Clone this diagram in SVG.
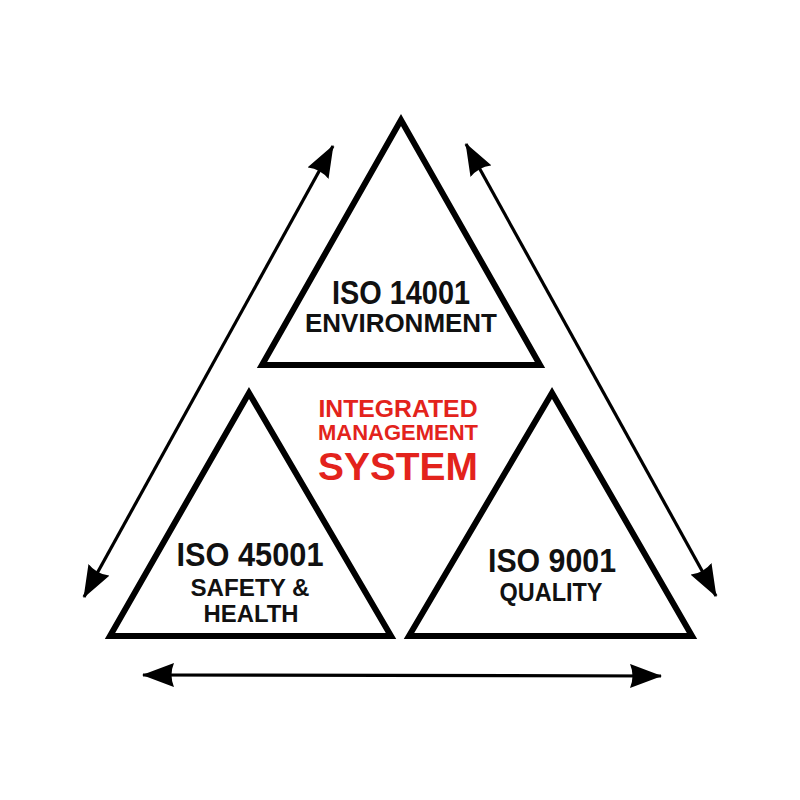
<svg xmlns="http://www.w3.org/2000/svg" width="800" height="800" viewBox="0 0 800 800">
<style>
.tri{fill:#fff;stroke:#000;stroke-width:6;stroke-linejoin:miter}
.arr{stroke:#000;stroke-width:3.2;fill:none;marker-start:url(#ah);marker-end:url(#ah)}
.t{font-family:"Liberation Sans",Arial,sans-serif;font-weight:bold;fill:#111;text-anchor:middle}
.r{font-family:"Liberation Sans",Arial,sans-serif;font-weight:bold;fill:#e3231c;text-anchor:middle}
</style>
<defs>
<marker id="ah" viewBox="0 0 32 24" refX="31" refY="12" markerWidth="10" markerHeight="7.5" markerUnits="strokeWidth" orient="auto-start-reverse">
<path d="M0,0 L32,12 L0,24 Q5,12 0,0 Z" fill="#000"/>
</marker>
</defs>
<rect width="800" height="800" fill="#fff"/>
<g id="connectors">
<line class="arr" x1="84" y1="597" x2="333" y2="146"/>
<line class="arr" x1="466" y1="144" x2="716" y2="596"/>
<line class="arr" x1="143" y1="675" x2="661" y2="676"/>
</g>
<g id="top">
<polygon class="tri" points="401,120 262,365 540,365"/>
<text class="t" x="401" y="304" font-size="33" textLength="138" lengthAdjust="spacingAndGlyphs">ISO 14001</text>
<text class="t" x="401" y="332" font-size="26" textLength="192" lengthAdjust="spacingAndGlyphs">ENVIRONMENT</text>
</g>
<g id="left">
<polygon class="tri" points="249,393 110,636 391,636"/>
<text class="t" x="250" y="566" font-size="34" textLength="147" lengthAdjust="spacingAndGlyphs">ISO 45001</text>
<text class="t" x="250" y="596" font-size="24" textLength="119" lengthAdjust="spacingAndGlyphs">SAFETY &amp;</text>
<text class="t" x="251" y="622" font-size="24" textLength="95" lengthAdjust="spacingAndGlyphs">HEALTH</text>
</g>
<g id="right">
<polygon class="tri" points="552,393 409,636 692,636"/>
<text class="t" x="552" y="572" font-size="33" textLength="128" lengthAdjust="spacingAndGlyphs">ISO 9001</text>
<text class="t" x="551" y="601" font-size="25" textLength="103" lengthAdjust="spacingAndGlyphs">QUALITY</text>
</g>
<g id="center">
<text class="r" x="398" y="417" font-size="23" textLength="159" lengthAdjust="spacingAndGlyphs">INTEGRATED</text>
<text class="r" x="398" y="440" font-size="22" textLength="160" lengthAdjust="spacingAndGlyphs">MANAGEMENT</text>
<text class="r" x="398" y="480" font-size="39" textLength="160" lengthAdjust="spacingAndGlyphs">SYSTEM</text>
</g>
</svg>
